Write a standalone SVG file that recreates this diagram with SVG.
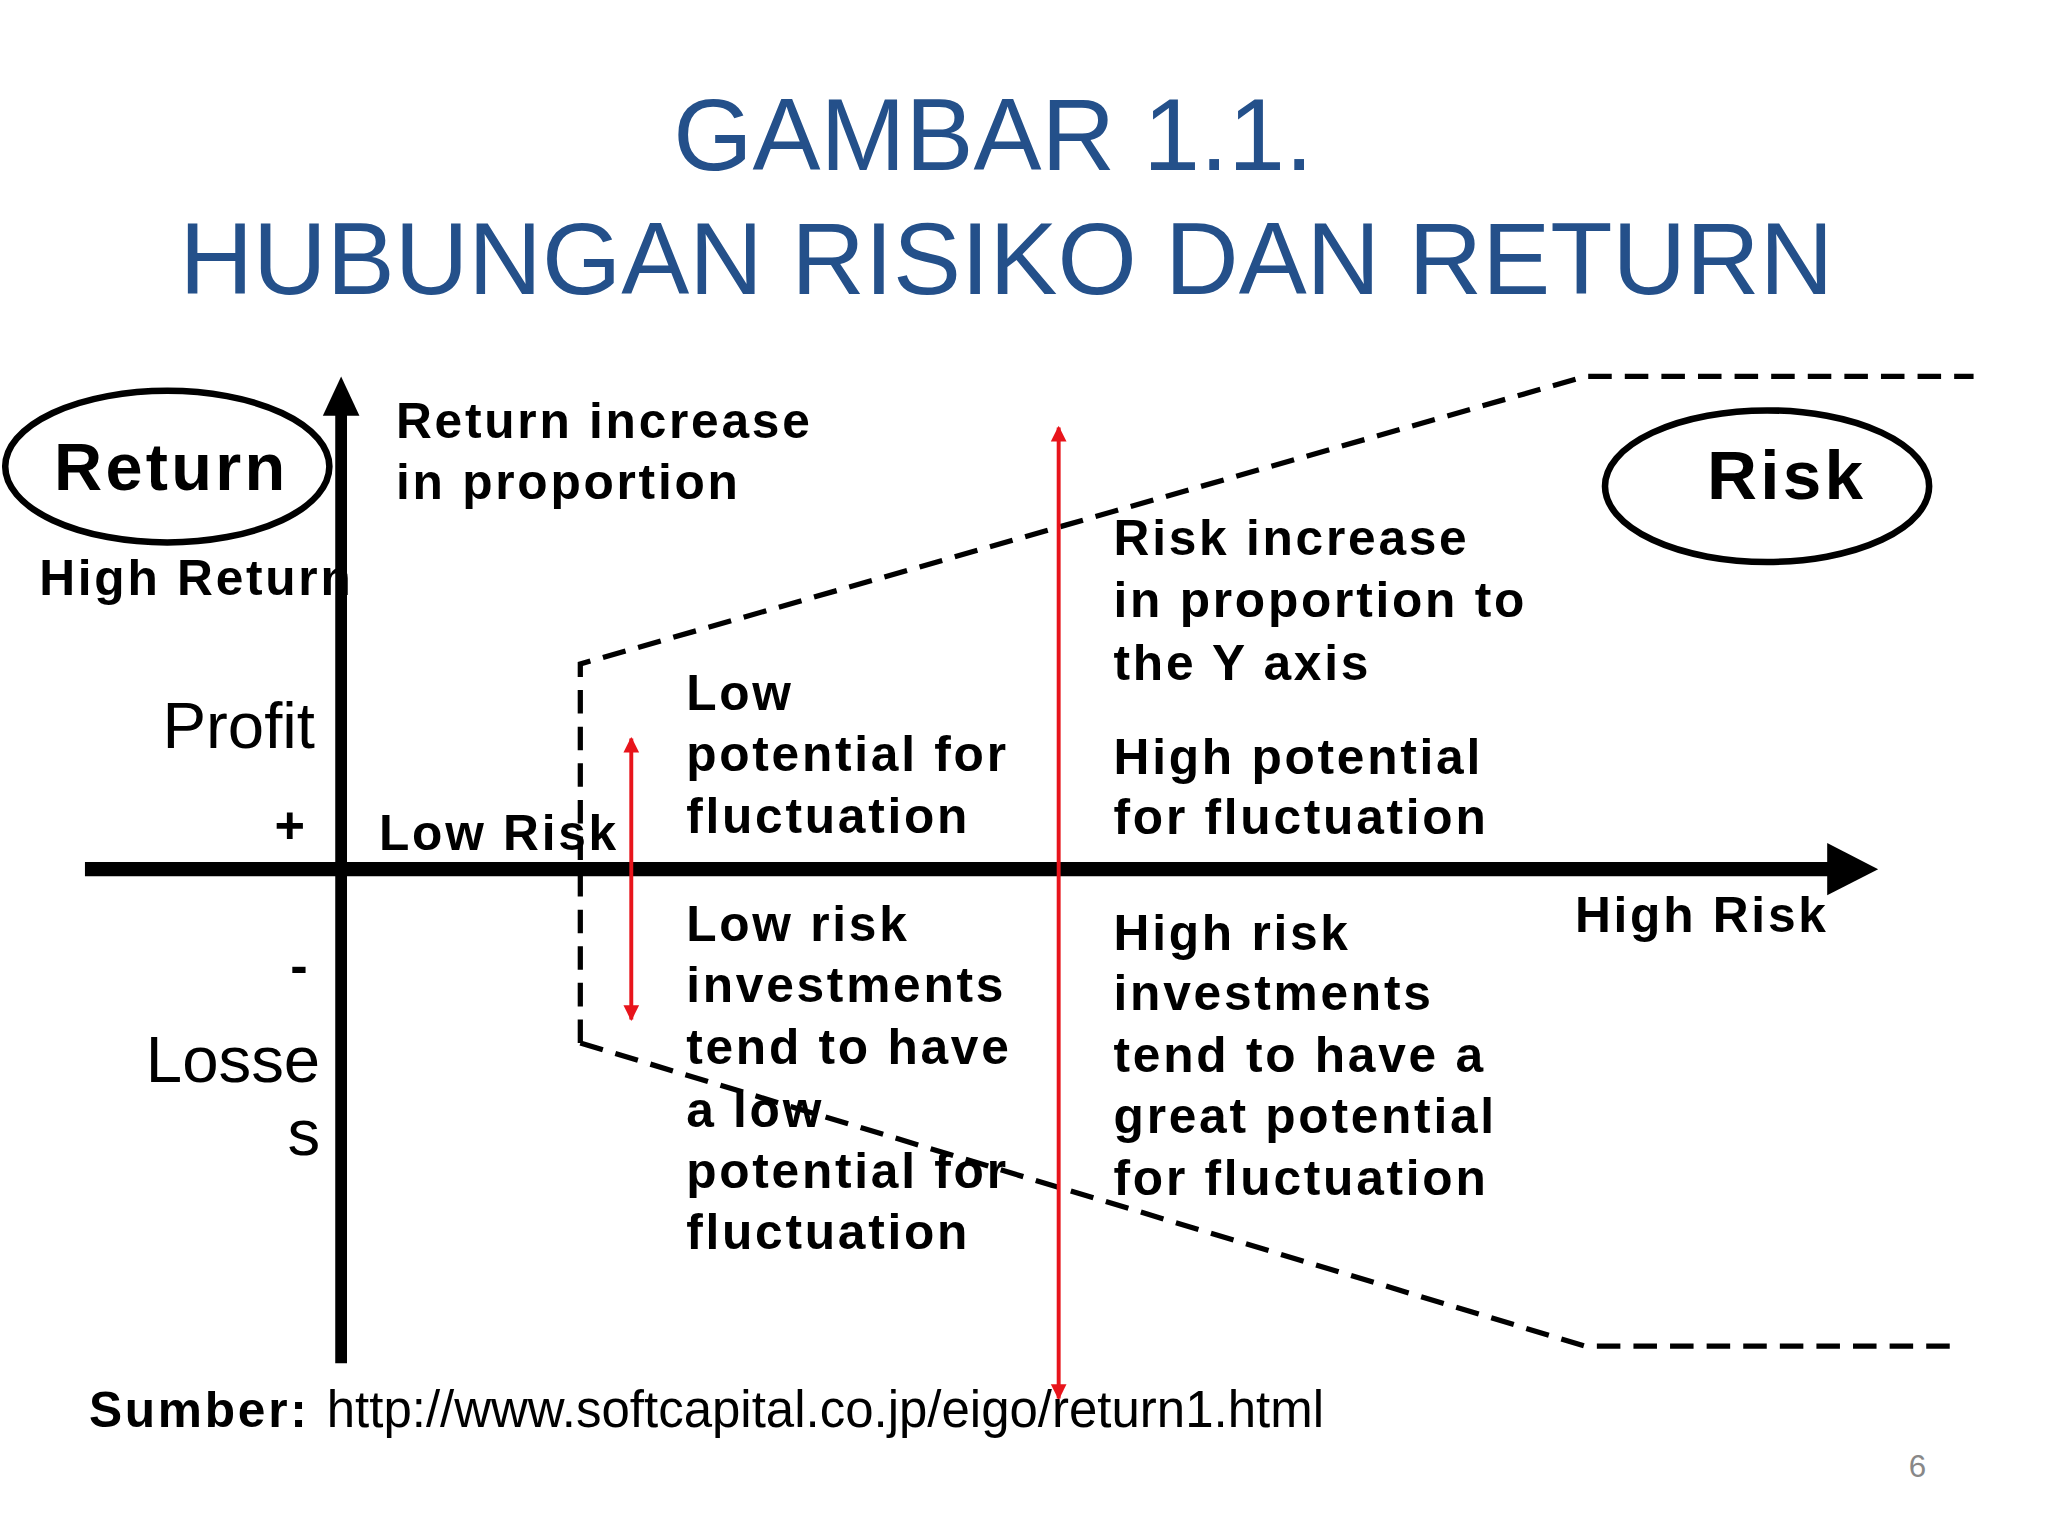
<svg xmlns="http://www.w3.org/2000/svg" width="2048" height="1536" viewBox="0 0 2048 1536">
<defs>
<style>
.t{font-family:"Liberation Sans",Arial,sans-serif;font-weight:bold;font-size:38px;fill:#000;letter-spacing:2.1px}
.r{font-family:"Liberation Sans",Arial,sans-serif;font-size:50px;fill:#000}
.ttl{font-family:"Liberation Sans",Arial,sans-serif;font-size:78px;fill:#24508a;text-anchor:middle}
.dash{fill:none;stroke:#000;stroke-width:4;stroke-dasharray:18 10}
.red{stroke:#e8141b;stroke-width:3}
</style>
<marker id="ra" viewBox="0 0 10 10" refX="9" refY="5" markerWidth="4" markerHeight="6" orient="auto-start-reverse" markerUnits="strokeWidth"><path d="M0,0L10,5L0,10z" fill="#e8141b"/></marker>
</defs>
<rect width="2048" height="1536" fill="#fff"/>
<g transform="scale(1.307)">
<g id="title">
<text class="ttl" x="760" y="130">GAMBAR 1.1.</text>
<text class="ttl" x="770" y="225">HUBUNGAN RISIKO DAN RETURN</text>
</g>
<g id="connectors">
<line x1="261" y1="1043" x2="261" y2="315" stroke="#000" stroke-width="9"/>
<polygon points="261,288 247,318 275,318" fill="#000"/>
<line x1="65" y1="665" x2="1402" y2="665" stroke="#000" stroke-width="11"/>
<polygon points="1437,665 1398,645 1398,685" fill="#000"/>
<path class="dash" d="M444,798 L444,508 L1213,288 L1510,288"/>
<path class="dash" d="M444,798 L1213,1030 L1500,1030"/>
<line class="red" x1="483" y1="565" x2="483" y2="780" marker-start="url(#ra)" marker-end="url(#ra)"/>
<line class="red" x1="810" y1="327" x2="810" y2="1070" marker-start="url(#ra)" marker-end="url(#ra)"/>
</g>
<g id="return-node">
<ellipse cx="128" cy="357" rx="124" ry="58" fill="none" stroke="#000" stroke-width="5"/>
<text x="131" y="375" text-anchor="middle" style="font-family:'Liberation Sans',Arial,sans-serif;font-weight:bold;font-size:51px;letter-spacing:2.5px">Return</text>
</g>
<g id="risk-node">
<ellipse cx="1352" cy="372" rx="124" ry="58" fill="none" stroke="#000" stroke-width="5"/>
<text x="1367" y="382" text-anchor="middle" style="font-family:'Liberation Sans',Arial,sans-serif;font-weight:bold;font-size:53px;letter-spacing:2.5px">Risk</text>
</g>
<g id="labels">
<text class="t" x="303" y="335">Return increase</text>
<text class="t" x="303" y="382">in proportion</text>
<text class="t" x="30" y="455">High Return</text>
<text class="r" x="241" y="572" text-anchor="end">Profit</text>
<text class="r" x="245" y="828" text-anchor="end">Losse</text>
<text class="r" x="245" y="884" text-anchor="end">s</text>
<text class="t" x="210" y="645" style="font-size:40px">+</text>
<text class="t" x="222" y="752" style="font-size:40px">-</text>
<text class="t" x="290" y="650">Low Risk</text>
<text class="t" x="525" y="543">Low</text>
<text class="t" x="525" y="590">potential for</text>
<text class="t" x="525" y="637">fluctuation</text>
<text class="t" x="525" y="720">Low risk</text>
<text class="t" x="525" y="767">investments</text>
<text class="t" x="525" y="814">tend to have</text>
<text class="t" x="525" y="862">a low</text>
<text class="t" x="525" y="909">potential for</text>
<text class="t" x="525" y="956">fluctuation</text>
<text class="t" x="852" y="425">Risk increase</text>
<text class="t" x="852" y="472">in proportion to</text>
<text class="t" x="852" y="520">the Y axis</text>
<text class="t" x="852" y="592">High potential</text>
<text class="t" x="852" y="638">for fluctuation</text>
<text class="t" x="852" y="727">High risk</text>
<text class="t" x="852" y="773">investments</text>
<text class="t" x="852" y="820">tend to have a</text>
<text class="t" x="852" y="867">great potential</text>
<text class="t" x="852" y="914">for fluctuation</text>
<text class="t" x="1205" y="713">High Risk</text>
<text class="t" x="68" y="1092">Sumber:</text>
<text x="250" y="1092" style="font-family:'Liberation Sans',Arial,sans-serif;font-size:39px">http://www.softcapital.co.jp/eigo/return1.html</text>
<text x="1467" y="1130" text-anchor="middle" style="font-family:'Liberation Sans',Arial,sans-serif;font-size:24px;fill:#888">6</text>
</g>
</g>
</svg>
